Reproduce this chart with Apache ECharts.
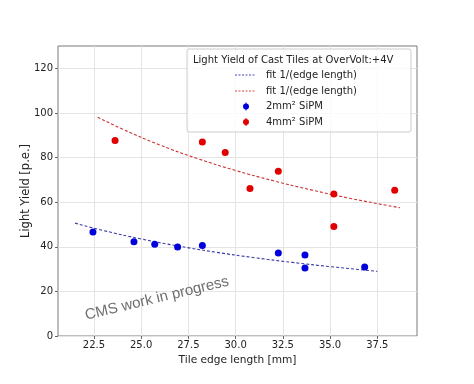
<!DOCTYPE html>
<html><head><meta charset="utf-8">
<script src="https://cdn.jsdelivr.net/npm/echarts@6/dist/echarts.min.js"></script>
<style>html,body{margin:0;padding:0;background:#fff}#c{width:474px;height:384px}</style>
</head><body><div id="c"></div>
<script>
// data
const blueX = [22.45, 24.62, 25.72, 26.93, 28.24, 32.26, 33.67, 33.67, 36.83];
const blueY = [46.6, 42.3, 41.1, 39.9, 40.6, 37.2, 36.3, 30.5, 30.9];
const redX = [23.62, 28.24, 29.45, 30.76, 32.26, 35.2, 35.2, 38.42];
const redY = [87.6, 87.0, 82.3, 66.1, 73.8, 63.7, 49.1, 65.3];
const blueFitX = [21.5, 23, 25, 27, 29, 31, 33, 35, 37.5];
const blueFitY = [50.6, 47.3, 43.5, 40.3, 37.5, 35.1, 33.0, 31.1, 29.0];
const redFitX = [22.7, 24, 26, 28, 30, 32, 34, 36, 38.7];
const redFitY = [98.1, 92.8, 85.6, 79.5, 74.2, 69.6, 65.5, 61.8, 57.5];
const xTicks = [22.5, 25.0, 27.5, 30.0, 32.5, 35.0, 37.5];
const yTicks = [0, 20, 40, 60, 80, 100, 120];
const legendTitle = 'Light Yield of Cast Tiles at OverVolt:+4V';
const legendNames = ['fit 1/(edge length)', 'fit 1/(edge length)', '2mm² SiPM', '4mm² SiPM'];

const zip = (a, b) => a.map((v, i) => [v, b[i]]);
const FONT = 'DejaVu Sans';
const chart = echarts.init(document.getElementById('c'), null, {renderer: 'canvas'});

const lx = 235, tx = 266;
const ly = [75, 91, 106.5, 122];
const legendGraphics = [
  {type: 'rect', shape: {x: 187, y: 49, width: 224, height: 83, r: 2},
   style: {fill: 'rgba(255,255,255,0.8)', stroke: '#cccccc', lineWidth: 1}, z: 10},
  {type: 'text', x: 193, y: 60.5, style: {text: legendTitle, font: '10px "DejaVu Sans"', fill: '#222', textVerticalAlign: 'middle'}, z: 11},
  {type: 'line', shape: {x1: lx, y1: ly[0], x2: lx + 21, y2: ly[0]}, style: {stroke: '#4848b8', lineWidth: 1, lineDash: [2, 1.5]}, z: 11},
  {type: 'line', shape: {x1: lx, y1: ly[1], x2: lx + 21, y2: ly[1]}, style: {stroke: '#d04848', lineWidth: 1, lineDash: [2, 1.5]}, z: 11},
  {type: 'line', shape: {x1: 246, y1: ly[2] - 4, x2: 246, y2: ly[2] + 4}, style: {stroke: '#0000dd', lineWidth: 1}, z: 11},
  {type: 'circle', shape: {cx: 246, cy: ly[2], r: 3}, style: {fill: '#0000dd'}, z: 11},
  {type: 'line', shape: {x1: 246, y1: ly[3] - 4, x2: 246, y2: ly[3] + 4}, style: {stroke: '#e00000', lineWidth: 1}, z: 11},
  {type: 'circle', shape: {cx: 246, cy: ly[3], r: 3}, style: {fill: '#e00000'}, z: 11}
];
legendNames.forEach((n, i) => legendGraphics.push({type: 'text', x: tx, y: ly[i], style: {text: n, font: '10px "DejaVu Sans"', fill: '#222', textVerticalAlign: 'middle'}, z: 11}));

chart.setOption({
  backgroundColor: '#fff',
  animation: false,
  grid: {left: 58, right: 57, top: 46, bottom: 48, show: true, borderColor: '#7a7a7a', borderWidth: 1, backgroundColor: 'transparent'},
  xAxis: {
    type: 'value', min: 20.6, max: 39.6,
    name: 'Tile edge length [mm]', nameLocation: 'middle', nameGap: 14,
    nameTextStyle: {fontFamily: FONT, fontSize: 10.6, color: '#222'},
    axisLine: {show: false},
    axisTick: {show: true, length: 3, lineStyle: {color: '#666'}, customValues: xTicks},
    axisLabel: {fontFamily: FONT, fontSize: 10, color: '#222', margin: 4, customValues: xTicks, formatter: v => v.toFixed(1)},
    splitLine: {show: false}
  },
  yAxis: {
    type: 'value', min: 0, max: 130, interval: 20,
    name: 'Light Yield [p.e.]', nameLocation: 'middle', nameGap: 26, nameMoveOverlap: false,
    nameTextStyle: {fontFamily: FONT, fontSize: 11.5, color: '#222'},
    axisLine: {show: false},
    axisTick: {show: true, length: 3, lineStyle: {color: '#666'}, customValues: yTicks},
    axisLabel: {fontFamily: FONT, fontSize: 10, color: '#222', margin: 5, customValues: yTicks},
    splitLine: {show: true, lineStyle: {color: '#e4e4e4', width: 1}}
  },
  series: [
    {type: 'scatter', data: [], z: 1,
     markLine: {silent: true, symbol: 'none', label: {show: false}, animation: false, z: 1,
       lineStyle: {color: '#e4e4e4', width: 1, type: 'solid'},
       data: xTicks.map(v => ({xAxis: v}))}},
    {type: 'line', data: zip(blueFitX, blueFitY), smooth: true, symbol: 'none', z: 3,
     lineStyle: {color: '#3a3aa8', width: 1.1, type: [3, 2]}},
    {type: 'line', data: zip(redFitX, redFitY), smooth: true, symbol: 'none', z: 3,
     lineStyle: {color: '#cc3333', width: 1.1, type: [3, 2]}},
    {type: 'scatter', data: zip(blueX, blueY), symbolSize: 7, z: 4, itemStyle: {color: '#0000dd', opacity: 1}},
    {type: 'scatter', data: zip(redX, redY), symbolSize: 7, z: 4, itemStyle: {color: '#e00000', opacity: 1}}
  ],
  graphic: legendGraphics.concat([
    {type: 'text', x: 87, y: 323, rotation: 0.236, z: 12,
     style: {text: 'CMS work in progress', font: '15px "Liberation Sans"', fill: '#6e6e6e', textVerticalAlign: 'bottom'}}
  ])
});
</script></body></html>
